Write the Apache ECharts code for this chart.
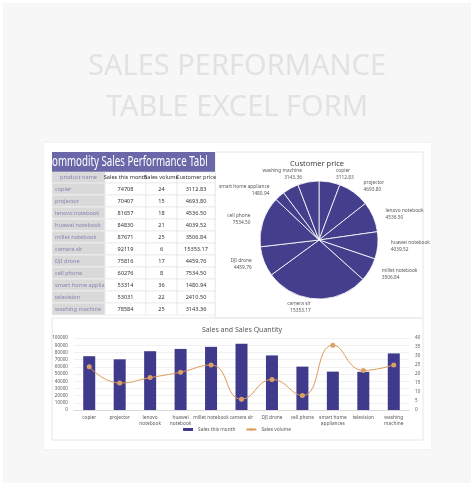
<!DOCTYPE html>
<html>
<head>
<meta charset="utf-8">
<script src="https://cdn.jsdelivr.net/npm/echarts@6/dist/echarts.min.js"></script>
<style>
  html, body { margin: 0; padding: 0; background: #fff; }
  #chart { width: 474px; height: 488px; }
</style>
</head>
<body>
<div id="chart"></div>
<script>
// data
var products = ["copier", "projector", "lenovo notebook", "huawei notebook", "millet notebook",
  "camera slr", "DJI drone", "cell phone", "smart home appliance", "television", "washing machine"];
var axisLabels = ["copier", "projector", "lenovo\nnotebook", "huawei\nnotebook", "millet notebook",
  "camera slr", "DJI drone", "cell phone", "smart home\nappliances", "television", "washing\nmachine"];
var salesThisMonth = [74708, 70407, 81657, 84830, 87671, 92119, 75816, 60276, 53314, 53031, 78584];
var salesVolume = [24, 15, 18, 21, 25, 6, 17, 8, 36, 22, 25];
var customerPrice = [3112.83, 4693.80, 4536.50, 4039.52, 3506.84, 15353.17, 4459.76, 7534.50, 1480.94, 2410.50, 3143.36];
var tableHeader = ["product name", "Sales this month", "Sales volume", "Customer price"];

var FONT = "Noto Sans";
var bar = "#3f3a8b";

// table built as graphic elements
var colX = [52, 105, 146, 177, 215];
var rowTop = 183, rowH = 12;
var table = [];
// column header row
for (var c = 0; c < 4; c++) {
  table.push({
    type: "rect",
    shape: { x: colX[c], y: 172, width: colX[c + 1] - colX[c], height: 11 },
    style: { fill: c === 0 ? "#d9d9d9" : "#fff", stroke: "#e2e2e2", lineWidth: 0.6 }
  });
}
for (var c = 0; c < 4; c++) {
  table.push({
    type: "text",
    x: (colX[c] + colX[c + 1]) / 2, y: 177.5,
    style: { text: tableHeader[c], fill: c === 0 ? "#8984b3" : "#333", fontSize: 5.6,
      fontFamily: FONT, align: "center", verticalAlign: "middle" }
  });
}
products.forEach(function (p, i) {
  var y = rowTop + i * rowH;
  var vals = [salesThisMonth[i], salesVolume[i], customerPrice[i].toFixed(2)];
  table.push({
    type: "rect",
    shape: { x: colX[0], y: y, width: colX[1] - colX[0], height: rowH },
    style: { fill: "#d9d9d9", stroke: "#f2f2f2", lineWidth: 0.8 }
  });
  table.push({
    type: "text", x: colX[0] + 3, y: y + rowH / 2,
    style: { text: p, fill: "#8984b3", fontSize: 5.6, fontFamily: FONT, verticalAlign: "middle" }
  });
  for (var c = 1; c < 4; c++) {
    table.push({
      type: "rect",
      shape: { x: colX[c], y: y, width: colX[c + 1] - colX[c], height: rowH },
      style: { fill: "#fff", stroke: "#e4e4e4", lineWidth: 0.6 }
    });
    table.push({
      type: "text", x: (colX[c] + colX[c + 1]) / 2, y: y + rowH / 2,
      style: { text: String(vals[c - 1]), fill: "#333", fontSize: 5.6, fontFamily: FONT,
        align: "center", verticalAlign: "middle" }
    });
  }
});

var chart = echarts.init(document.getElementById("chart"));
chart.setOption({
  animation: false,
  backgroundColor: "#fff",
  textStyle: { fontFamily: FONT },
  graphic: [
    { type: "rect", z: -10, shape: { x: 3, y: 3, width: 468, height: 480 }, style: { fill: "#f7f7f7" } },
    { type: "text", z: -9, x: 237, y: 67, style: { text: "SALES PERFORMANCE", fill: "#e2e2e2",
        fontSize: 29, fontFamily: FONT, align: "center", verticalAlign: "middle" } },
    { type: "text", z: -9, x: 237, y: 108, style: { text: "TABLE EXCEL FORM", fill: "#e2e2e2",
        fontSize: 29, fontFamily: FONT, align: "center", verticalAlign: "middle" } },
    { type: "rect", z: -8, shape: { x: 44, y: 143, width: 387, height: 306 },
      style: { fill: "#fff", shadowBlur: 3, shadowColor: "rgba(0,0,0,0.05)" } },
    { type: "rect", z: -7, shape: { x: 215, y: 152, width: 208, height: 166 },
      style: { fill: "#fff", stroke: "#e6e6e6", lineWidth: 1 } },
    { type: "rect", z: -7, shape: { x: 52, y: 318, width: 371, height: 122 },
      style: { fill: "#fff", stroke: "#e6e6e6", lineWidth: 1 } },
    { type: "rect", shape: { x: 52, y: 152, width: 163, height: 20 }, style: { fill: "#6b68a9" } },
    { type: "text", x: 52, y: 162, scaleX: 0.72, style: { text: "ommodity Sales Performance Tabl", fill: "#fff",
        fontSize: 13.5, fontFamily: FONT, verticalAlign: "middle" } },
    { type: "group", children: table }
  ],
  title: [
    { text: "Customer price", left: 312, top: 155, textAlign: "center",
      textStyle: { fontSize: 7.5, fontWeight: "normal", color: "#404040", fontFamily: FONT } },
    { text: "Sales and Sales Quantity", left: 237, top: 321, textAlign: "center",
      textStyle: { fontSize: 7, fontWeight: "normal", color: "#595959", fontFamily: FONT } }
  ],
  legend: {
    bottom: 51, left: "center", itemGap: 10, itemWidth: 10, itemHeight: 3,
    textStyle: { fontSize: 4.8, color: "#595959" },
    data: [
      { name: "Sales this month", icon: "rect" },
      { name: "Sales volume" }
    ]
  },
  grid: { left: 74, right: 65, top: 338, bottom: 78 },
  xAxis: {
    type: "category", data: axisLabels,
    axisLine: { lineStyle: { color: "#d9d9d9" } },
    axisTick: { show: false },
    axisLabel: { fontSize: 4.8, color: "#595959", interval: 0, lineHeight: 6, margin: 5 }
  },
  yAxis: [
    { type: "value", min: 0, max: 100000, interval: 10000,
      axisLabel: { fontSize: 4.6, color: "#595959", margin: 6, formatter: function (v) { return String(v); } },
      splitLine: { lineStyle: { color: "#e8e8e8", width: 0.6 } } },
    { type: "value", min: 0, max: 40, interval: 5,
      axisLabel: { fontSize: 4.6, color: "#595959", margin: 6 },
      splitLine: { show: false } }
  ],
  series: [
    { name: "Sales this month", type: "bar", data: salesThisMonth, barWidth: 12,
      itemStyle: { color: bar } },
    { name: "Sales volume", type: "line", yAxisIndex: 1, data: salesVolume, smooth: true,
      symbol: "circle", symbolSize: 5,
      lineStyle: { color: "#de9a58", width: 1 },
      itemStyle: { color: "#d9a068" } },
    { name: "Customer price", type: "pie", center: [319, 240], radius: 59,
      startAngle: 90, clockwise: true, avoidLabelOverlap: false,
      data: products.map(function (p, i) { return { name: p, value: customerPrice[i] }; }),
      itemStyle: { color: "#453e8d", borderColor: "#fff", borderWidth: 0.8 },
      label: { position: "outside", fontSize: 4.8, color: "#595959", lineHeight: 7,
        formatter: function (p) { return p.name + "\n" + p.value.toFixed(2); } },
      labelLine: { show: false, length: 8, length2: 0 },
      emphasis: { disabled: true } }
  ]
});
</script>
</body>
</html>
